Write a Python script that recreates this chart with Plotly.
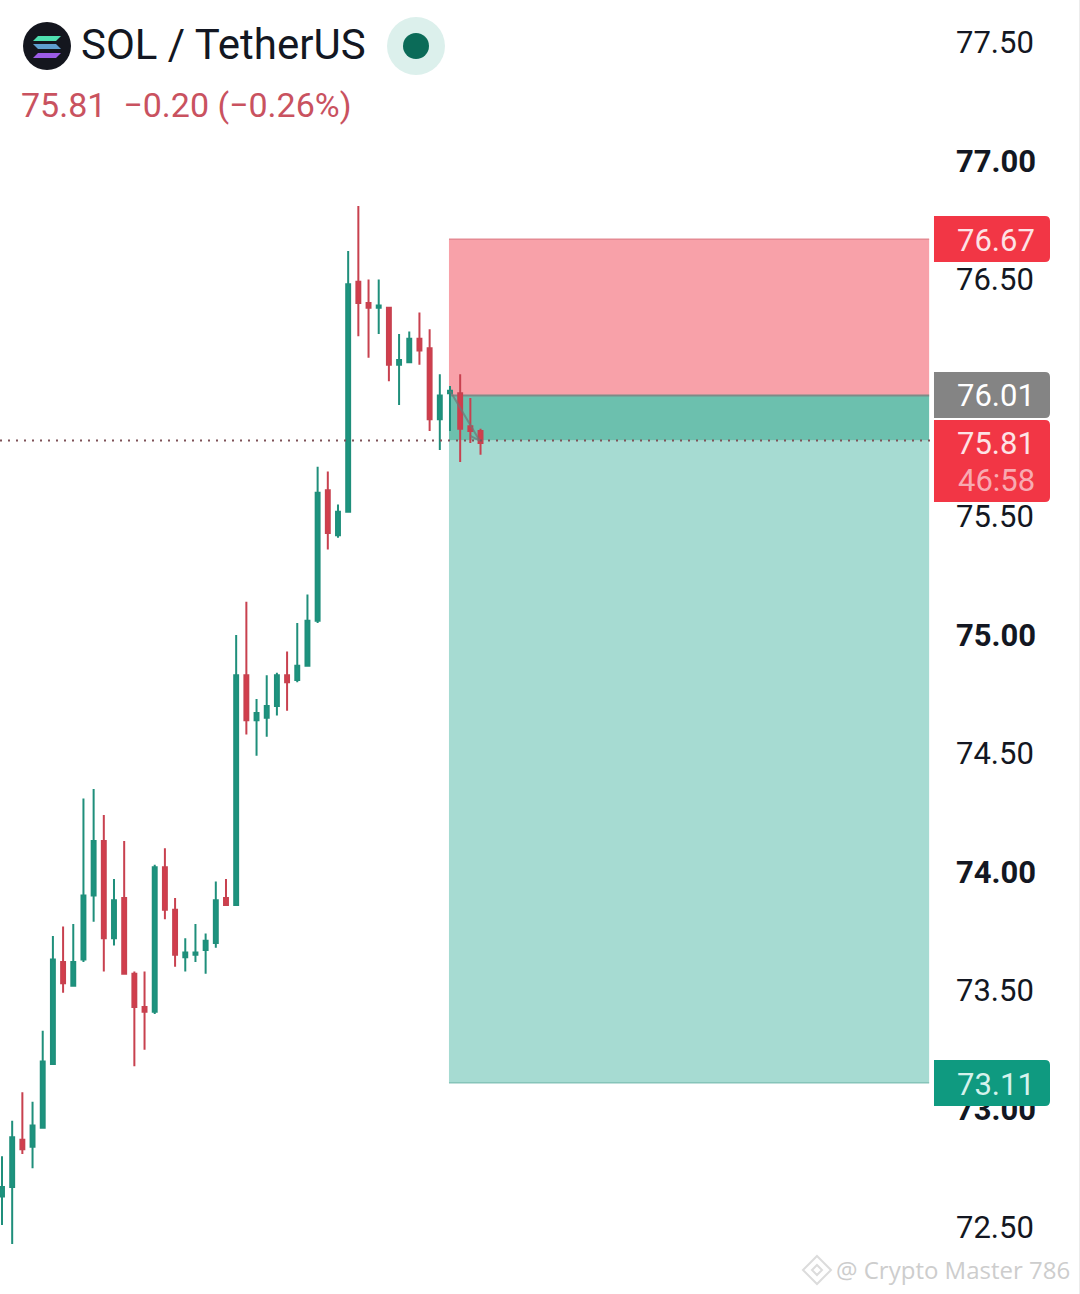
import plotly.graph_objects as go

opens = [72.63, 72.67, 72.87, 72.84, 72.92, 73.19, 73.62, 73.52, 73.63, 73.90, 74.13, 73.72,
         73.89, 73.57, 73.43, 73.41, 74.02, 73.84, 73.64, 73.65, 73.67, 73.70, 73.89, 73.86,
         74.83, 74.64, 74.65, 74.70, 74.83, 74.81, 74.87, 75.06, 75.61, 75.42, 75.52, 76.49,
         76.40, 76.38, 76.38, 76.14, 76.15, 76.25, 76.21, 75.91, 76.02, 76.02, 75.88, 75.86]
highs = [72.80, 72.95, 73.07, 73.03, 73.33, 73.73, 73.77, 73.78, 74.31, 74.35, 74.24, 73.97,
         74.13, 73.58, 73.58, 74.03, 74.10, 73.89, 73.72, 73.78, 73.74, 73.96, 73.97, 75.00,
         75.14, 74.73, 74.83, 74.84, 74.93, 75.05, 75.17, 75.71, 75.69, 75.55, 76.62, 76.81,
         76.50, 76.50, 76.38, 76.27, 76.28, 76.36, 76.29, 76.10, 76.05, 76.10, 76.00, 75.87]
lows = [72.51, 72.43, 72.81, 72.75, 72.92, 73.19, 73.49, 73.52, 73.62, 73.79, 73.58, 73.69,
        73.57, 73.18, 73.25, 73.40, 73.80, 73.60, 73.58, 73.62, 73.57, 73.68, 73.86, 73.86,
        74.58, 74.49, 74.57, 74.66, 74.68, 74.80, 74.87, 75.05, 75.36, 75.41, 75.52, 76.26,
        76.17, 76.27, 76.07, 75.97, 76.15, 76.14, 75.86, 75.78, 75.86, 75.73, 75.81, 75.76]
closes = [72.67, 72.88, 72.83, 72.93, 73.20, 73.63, 73.53, 73.62, 73.90, 74.13, 73.72, 73.88,
          73.57, 73.43, 73.41, 74.02, 73.84, 73.65, 73.66, 73.66, 73.71, 73.88, 73.86, 74.83,
          74.64, 74.67, 74.70, 74.83, 74.80, 74.87, 75.06, 75.60, 75.43, 75.52, 76.48, 76.40,
          76.38, 76.39, 76.14, 76.16, 76.25, 76.20, 75.91, 76.01, 76.03, 75.87, 75.86, 75.81]
candle_x = list(range(len(opens)))

tick_vals = [77.5, 77.0, 76.5, 75.5, 75.0, 74.5, 74.0, 73.5, 73.0, 72.5]
tick_text = ["77.50", "<b>77.00</b>", "76.50", "75.50", "<b>75.00</b>", "74.50",
             "<b>74.00</b>", "73.50", "<b>73.00</b>", "72.50"]

stop_price = 76.67
entry_price = 76.01
last_line = 75.82
target_price = 73.11
zone_start = 43.9
zone_end = 91.06

arrow_x = [44, 46.9, 46.0, 46.9]
arrow_y = [76.03, 75.82, 75.84, 75.82]

GREEN = "#1f8f7b"
RED = "#c8414f"

W, H = 1080, 1294


def px(x):
    return x / W


def py(y):
    return 1 - y / H


def poly(points, fill):
    # 像素坐标的多边形 -> paper 坐标 shape
    path = "M " + " L ".join(f"{px(x):.5f},{py(y):.5f}" for x, y in points) + " Z"
    return dict(type="path", xref="paper", yref="paper", path=path,
                fillcolor=fill, line_width=0, layer="above")


def round_box(x0, y0, x1, y1, fill, r=5):
    path = (f"M {px(x0 + r):.5f},{py(y0):.5f} L {px(x1 - r):.5f},{py(y0):.5f} "
            f"Q {px(x1):.5f},{py(y0):.5f} {px(x1):.5f},{py(y0 + r):.5f} "
            f"L {px(x1):.5f},{py(y1 - r):.5f} "
            f"Q {px(x1):.5f},{py(y1):.5f} {px(x1 - r):.5f},{py(y1):.5f} "
            f"L {px(x0):.5f},{py(y1):.5f} L {px(x0):.5f},{py(y0):.5f} Z")
    return dict(type="path", xref="paper", yref="paper", path=path,
                fillcolor=fill, line_width=0, layer="above")


def circle(cx, cy, r, fill):
    return dict(type="circle", xref="paper", yref="paper",
                x0=px(cx - r), x1=px(cx + r), y0=py(cy + r), y1=py(cy - r),
                fillcolor=fill, line_width=0, layer="above")


def label(x, y, text, size, color, anchor="left", family="Roboto"):
    return dict(xref="paper", yref="paper", x=px(x), y=py(y), text=text, showarrow=False,
                xanchor=anchor, yanchor="middle", font=dict(family=family, size=size, color=color))


fig = go.Figure()

fig.add_trace(go.Candlestick(
    x=candle_x, open=opens, high=highs, low=lows, close=closes,
    increasing=dict(line=dict(color=GREEN, width=2), fillcolor="#1c9580"),
    decreasing=dict(line=dict(color=RED, width=2), fillcolor="#d63c4b"),
    whiskerwidth=0, showlegend=False, hoverinfo="skip",
))

# 箭头
fig.add_trace(go.Scatter(
    x=arrow_x, y=arrow_y, mode="lines", showlegend=False, hoverinfo="skip",
    line=dict(color="rgba(110,120,118,0.7)", width=2),
))

shapes = [
    # 风险 / 收益区域
    dict(type="rect", x0=zone_start, x1=zone_end, y0=entry_price, y1=stop_price,
         fillcolor="#f8a1a9", line_width=0, layer="below"),
    dict(type="rect", x0=zone_start, x1=zone_end, y0=target_price, y1=last_line,
         fillcolor="#a6dbd2", line_width=0, layer="below"),
    dict(type="rect", x0=zone_start, x1=zone_end, y0=last_line, y1=entry_price,
         fillcolor="#6cc0ae", line_width=0, layer="below"),
    dict(type="line", x0=zone_start, x1=zone_end, y0=stop_price, y1=stop_price,
         line=dict(color="#e58a93", width=1.5), layer="below"),
    dict(type="line", x0=zone_start, x1=zone_end, y0=entry_price, y1=entry_price,
         line=dict(color="#7d8b88", width=2), layer="below"),
    dict(type="line", x0=zone_start, x1=zone_end, y0=target_price, y1=target_price,
         line=dict(color="#86c4b9", width=1.5), layer="below"),
    # 现价虚线
    dict(type="line", xref="paper", x0=0, x1=px(932), y0=last_line, y1=last_line,
         line=dict(color="#7f5258", width=2, dash="2px,6px"), layer="above"),
    # 右侧价格标签
    round_box(934, 216, 1050, 262, "#f23645"),
    round_box(934, 372, 1050, 418, "#848484"),
    round_box(934, 420, 1050, 502, "#f23645"),
    round_box(934, 1060, 1050, 1106, "#0f9a80"),
    # 图标
    circle(47, 46, 24, "#14161e"),
    poly([(38, 36), (61, 36), (56, 41), (33, 41)], "#4fe0b0"),
    poly([(33, 44), (56, 44), (61, 49), (38, 49)], "#5f9fd0"),
    poly([(38, 53), (61, 53), (56, 58), (33, 58)], "#9c5ce6"),
    circle(416, 46, 29, "#dcf0ec"),
    circle(416, 46, 13, "#0b6b58"),
    # 水印图标
    dict(type="path", xref="paper", yref="paper",
         path=(f"M {px(817):.5f},{py(1256):.5f} L {px(831):.5f},{py(1270):.5f} "
               f"L {px(817):.5f},{py(1284):.5f} L {px(803):.5f},{py(1270):.5f} Z"),
         fillcolor="rgba(0,0,0,0)", line=dict(color="#dcdcdc", width=2), layer="above"),
    dict(type="path", xref="paper", yref="paper",
         path=(f"M {px(817):.5f},{py(1265):.5f} L {px(822):.5f},{py(1270):.5f} "
               f"L {px(817):.5f},{py(1275):.5f} L {px(812):.5f},{py(1270):.5f} Z"),
         fillcolor="rgba(0,0,0,0)", line=dict(color="#dcdcdc", width=2), layer="above"),
    # 右边缘
    dict(type="line", xref="paper", yref="paper", x0=px(1079.5), x1=px(1079.5), y0=0, y1=1,
         line=dict(color="#ececec", width=1), layer="above"),
]

annotations = [
    label(79, 45, "SOL / TetherUS", 42, "#131722"),
    label(19, 105, "75.81  −0.20 (−0.26%)", 34, "#c9525f"),
    label(996, 240, "76.67", 31, "#fde3e5", anchor="center"),
    label(996, 396, "76.01", 31, "#ffffff", anchor="center"),
    label(996, 443, "75.81", 31, "#fde3e5", anchor="center"),
    label(996, 480, "46:58", 31, "#f8aab1", anchor="center"),
    label(996, 1084, "73.11", 31, "#d5f2ec", anchor="center"),
    label(834, 1269, "@ Crypto Master 786", 24, "#cdcdcd", family="Open Sans"),
]

fig.update_layout(
    width=W, height=H,
    margin=dict(l=0, r=0, t=0, b=0),
    paper_bgcolor="#ffffff", plot_bgcolor="#ffffff",
    boxgap=0.45,
    showlegend=False,
    shapes=shapes, annotations=annotations,
    xaxis=dict(domain=[0, px(955)], range=[-0.196, 93.6], visible=False,
               rangeslider=dict(visible=False), fixedrange=True),
    yaxis=dict(side="right", range=[72.219, 77.679], tickvals=tick_vals, ticktext=tick_text,
               showgrid=False, zeroline=False, showline=False, ticks="", ticklen=0,
               fixedrange=True, tickfont=dict(family="Roboto", size=31, color="#131722")),
)

fig.write_html("out.html", post_script="document.body.style.margin='0';",
               config=dict(displayModeBar=False))
